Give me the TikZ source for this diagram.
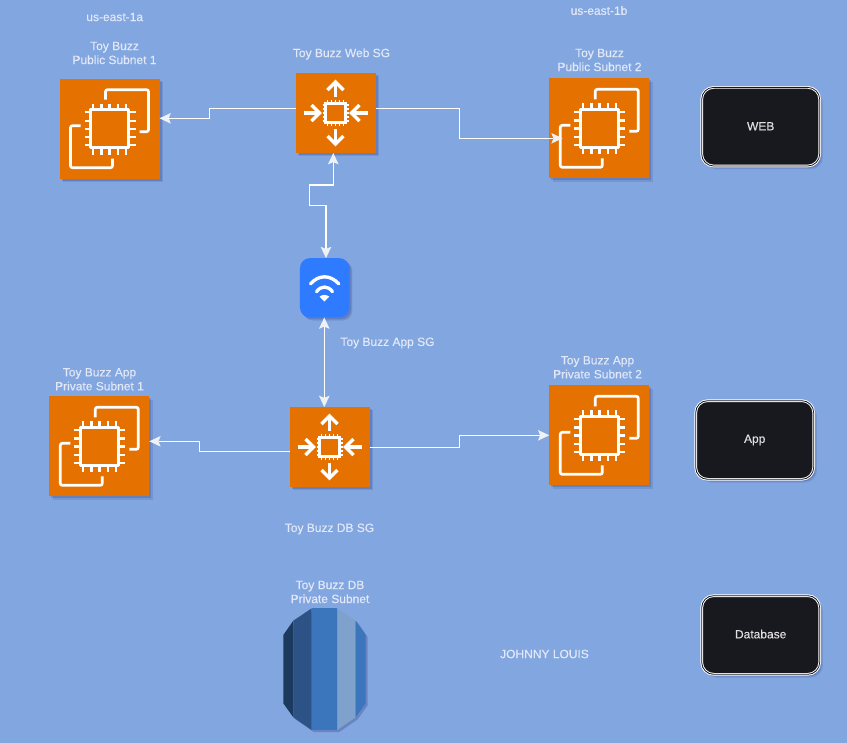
\documentclass[tikz,border=0pt]{standalone}
\usepackage{fontspec}
\setmainfont{Liberation Sans}
\newfontfamily\lblfont[FakeBold=0.3]{Liberation Sans}
\usetikzlibrary{arrows.meta,shadows}
\definecolor{bgblue}{HTML}{82A6E0}
\definecolor{awsorange}{HTML}{E57200}
\definecolor{wifiblue}{HTML}{2E7BFF}
\definecolor{darkbox}{HTML}{18181F}
\definecolor{lab}{HTML}{E2E8F7}
\definecolor{tipc}{HTML}{EEF1F6}
\definecolor{dbA}{HTML}{1C3A5E}
\definecolor{dbB}{HTML}{2D5386}
\definecolor{dbC}{HTML}{3B76BC}
\definecolor{dbD}{HTML}{7EA2CB}
\tikzset{
  softshadow/.style={
    drop shadow={shadow xshift=2.4pt,shadow yshift=-2.4pt,opacity=.10,fill=black!70!blue},
    drop shadow={shadow xshift=1.5pt,shadow yshift=-1.5pt,opacity=.14,fill=black!70!blue}},
  ecbox/.style={rectangle,fill=awsorange,minimum size=75pt,inner sep=0pt,outer sep=0pt,softshadow},
  sgbox/.style={rectangle,fill=awsorange,minimum size=60pt,inner sep=0pt,outer sep=0pt,softshadow},
  wifibox/.style={rectangle,rounded corners=7.5pt,fill=wifiblue,minimum width=37pt,minimum height=44.5pt,inner sep=0pt,outer sep=0pt,softshadow},
  tierbox/.style={rectangle,rounded corners=9pt,fill=darkbox,draw=white,double=darkbox,line width=.7pt,double distance=.6pt,minimum width=88.5pt,minimum height=59pt,inner sep=0pt,outer sep=0pt,softshadow,text=white!88!black,font=\lblfont\fontsize{9}{11}\selectfont},
  lbl/.style={text=lab,font=\lblfont\fontsize{9}{10.5}\selectfont,align=center,inner sep=0pt},
  conn/.style={draw=white,line width=.8pt,line join=miter},
  oneway/.style={conn,-{Stealth[length=8.5pt,width=8pt,inset=1.6pt,fill=tipc,line width=0pt]}},
  twoway/.style={conn,{Stealth[length=8.5pt,width=8pt,inset=1.6pt,fill=tipc,line width=0pt]}-{Stealth[length=8.5pt,width=8pt,inset=1.6pt,fill=tipc,line width=0pt]}},
  ecicon/.pic={
    \draw[white,line width=2.4pt,line join=round] (31,31) rectangle (69,69);
    \foreach \p in {33.5,42,50,58.5,66.5}{
      \draw[white,line width=1.8pt] (\p,25) -- (\p,31);
      \draw[white,line width=1.8pt] (\p,69) -- (\p,76);
      \draw[white,line width=1.8pt] (25,\p) -- (31,\p);
      \draw[white,line width=1.8pt] (69,\p) -- (76,\p);
    }
    \draw[white,line width=2pt,rounded corners=1.5pt] (46,21) -- (46,11) -- (89,11) -- (89,53) -- (80,53);
    \draw[white,line width=2pt,rounded corners=1.5pt] (21,47) -- (11,47) -- (11,89) -- (53,89) -- (53,80);
  },
  sgicon/.pic={
    \draw[white,line width=2.5pt] (-9.8,-9.8) rectangle (9.8,9.8);
    \foreach \p in {-8,-4,0,4,8}{
      \draw[white,line width=1.4pt] (\p,-13) -- (\p,-10);
      \draw[white,line width=1.4pt] (\p,10) -- (\p,13);
      \draw[white,line width=1.4pt] (-13,\p) -- (-10,\p);
      \draw[white,line width=1.4pt] (10,\p) -- (13,\p);
    }
    % up and down arrows point outwards
    \draw[white,line width=2.5pt] (0,-16) -- (0,-30.5);
    \draw[white,line width=2.5pt] (-8,-23) -- (0,-31) -- (8,-23);
    \draw[white,line width=2.5pt] (0,16) -- (0,30.5);
    \draw[white,line width=2.5pt] (-8,23) -- (0,31) -- (8,23);
    % left and right arrows point inwards
    \draw[white,line width=2.5pt] (-32,0) -- (-16.5,0);
    \draw[white,line width=2.5pt] (-24,-8) -- (-16,0) -- (-24,8);
    \draw[white,line width=2.5pt] (32,0) -- (16.5,0);
    \draw[white,line width=2.5pt] (24,-8) -- (16,0) -- (24,8);
  },
}
\begin{document}
\begin{tikzpicture}[x=0.75pt,y=-0.75pt]
\useasboundingbox (0,0) rectangle (847,743);
\fill[bgblue] (0,0) rectangle (847,743);

% subnet instances
\node[ecbox] (pub1) at (109.5,128.7) {};
\node[ecbox] (pub2) at (599.3,128.3) {};
\node[ecbox] (app1) at (99.3,446.3) {};
\node[ecbox] (app2) at (599.3,435.3) {};
\pic at (pub1.north west) {ecicon};
\pic at (pub2.north west) {ecicon};
\pic at (app1.north west) {ecicon};
\pic at (app2.north west) {ecicon};

% security groups
\node[sgbox] (websg) at (335.5,113) {};
\node[sgbox] (appsg) at (329.5,447) {};
\pic at (websg.center) {sgicon};
\pic at (appsg.center) {sgicon};

% internet gateway
\node[wifibox] (wifi) at (324.6,287.8) {};
\draw[white,line width=2.5pt,line cap=round] (310.5,283.8) .. controls (319,274.5) and (330,274.5) .. (338.8,283.8);
\draw[white,line width=2.5pt,line cap=round] (316.5,291.7) .. controls (321,285.5) and (328,285.5) .. (332.5,291.7);
\fill[white] (324.4,301.5) -- (319.5,296.7) .. controls (322.5,294.3) and (326.3,294.3) .. (329.3,296.7) -- cycle;

% database
\fill[black!70!blue,opacity=.2] (313.7,610.3) -- (339.3,610.3) -- (357.7,622.7) -- (367.7,637) -- (367.7,705.3) -- (357.7,719.3) -- (339.3,732) -- (313.7,732) -- (295.3,719.3) -- (285.3,705.3) -- (285.3,637) -- (295.3,622.7) -- cycle;
\fill[dbA] (283.3,635) -- (293.3,620.7) -- (293.3,717.3) -- (283.3,703.3) -- cycle;
\fill[dbB] (293.3,620.7) -- (311.7,608.3) -- (311.7,730) -- (293.3,717.3) -- cycle;
\fill[dbC] (311.7,608.3) rectangle (337.3,730);
\fill[dbD] (337.3,608.3) -- (355.7,620.7) -- (355.7,717.3) -- (337.3,730) -- cycle;
\fill[dbC] (355.7,620.7) -- (365.7,635) -- (365.7,703.3) -- (355.7,717.3) -- cycle;

% tier boxes
\node[tierbox] (web) at (760.7,126.7) {\raisebox{.7pt}{WEB}};
\node[tierbox] (apptier) at (754.7,440) {App};
\node[tierbox] (db) at (760.7,635) {\raisebox{1.5pt}{Database}};

% connectors
\coordinate (wl1) at (209.3,108.3);
\coordinate (wl2) at (209.3,118.3);
\draw[oneway] (websg.west |- wl1) -- (wl1) -- (wl2) -- (pub1.east |- wl2);

\coordinate (wr1) at (459.3,108.3);
\coordinate (wr2) at (459.3,138.3);
\draw[oneway] (websg.east |- wr1) -- (wr1) -- (wr2) -- ([xshift=10pt]pub2.west |- wr2);

\coordinate (g1) at (333.3,185);
\coordinate (g2) at (309.3,185);
\coordinate (g3) at (309.3,205.3);
\coordinate (g4) at (326,205.3);
\draw[twoway] (g1 |- websg.south) -- (g1) -- (g2) -- (g3) -- (g4) -- (g4 |- wifi.north);

\draw[twoway] (wifi.south -| appsg.north) ++(-5.2,0) coordinate (ga) -- (ga |- appsg.north);

\coordinate (al1) at (199.3,441.3);
\coordinate (al2) at (199.3,451.3);
\draw[oneway] (appsg.west |- al2) -- (al2) -- (al1) -- (app1.east |- al1);

\coordinate (ar1) at (459.3,447.3);
\coordinate (ar2) at (459.3,435.3);
\draw[oneway] (appsg.east |- ar1) -- (ar1) -- (ar2) -- (app2.west |- ar2);

% labels
\node[lbl] (az1) at (114.7,17) {us-east-1a};
\node[lbl] (az2) at (599,10.5) {us-east-1b};
\node[lbl] (lpub1) at (114.5,53) {Toy Buzz\\Public Subnet 1};
\node[lbl] (lwebsg) at (341.5,54) {Toy Buzz Web SG};
\node[lbl] (lpub2) at (599.5,60) {Toy Buzz\\Public Subnet 2};
\node[lbl] (lappsg) at (387.5,343) {Toy Buzz App SG};
\node[lbl] (lapp1) at (99.5,379.3) {Toy Buzz App\\Private Subnet 1};
\node[lbl] (lapp2) at (597.5,367.3) {Toy Buzz App\\Private Subnet 2};
\node[lbl] (ldbsg) at (329.5,529) {Toy Buzz DB SG};
\node[lbl] (ldb) at (330,592) {Toy Buzz DB\\Private Subnet};
\node[lbl] (sign) at (544.5,654) {JOHNNY LOUIS};
\end{tikzpicture}
\end{document}
